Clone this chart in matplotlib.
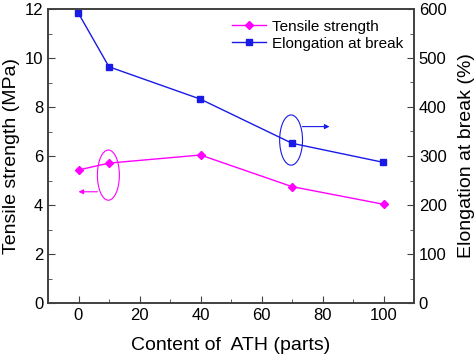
import matplotlib.pyplot as plt
from matplotlib.patches import Ellipse
from matplotlib.ticker import MultipleLocator

plt.rcParams["font.family"] = ["Liberation Sans", "DejaVu Sans"]
plt.rcParams.update({'font.size': 12})

content = [0, 10, 40, 70, 100]
tensile = [5.43, 5.71, 6.04, 4.75, 4.03]
elongation = [591, 482, 416, 326, 287]

pink = '#ff00ff'
blue = '#1a1ae6'
axc = '#404040'

fig = plt.figure(figsize=(4.74, 3.57), dpi=100)
ax = fig.add_axes([48/474, 1-303/357, 366/474, 294/357])
ax2 = ax.twinx()

l1, = ax.plot(content, tensile, color=pink, marker='D', markersize=4.5, lw=1, label='Tensile strength')
l2, = ax2.plot(content, elongation, color=blue, marker='s', markersize=4.5, lw=1, label='Elongation at break')

ax.set_xlim(-10, 110)
ax.set_ylim(0, 12)
ax2.set_ylim(0, 600)
ax.xaxis.set_major_locator(MultipleLocator(20))
ax.xaxis.set_minor_locator(MultipleLocator(10))
ax.yaxis.set_major_locator(MultipleLocator(2))
ax.yaxis.set_minor_locator(MultipleLocator(1))
ax2.yaxis.set_major_locator(MultipleLocator(100))
ax2.yaxis.set_minor_locator(MultipleLocator(50))

for a in (ax, ax2):
    for s in a.spines.values():
        s.set_color(axc)
        s.set_linewidth(1.2)
    a.tick_params(which='both', direction='in', colors=axc, labelcolor='black', labelsize=12)
    a.tick_params(which='major', length=5)
    a.tick_params(which='minor', length=3)

ax.set_xlabel('Content of  ATH (parts)', fontsize=14, labelpad=10)
ax.set_ylabel('Tensile strength (MPa)', fontsize=14, labelpad=3)
ax2.set_ylabel('Elongation at break (%)', fontsize=14, labelpad=8)

# ellipses with arrows pointing to the axis each series belongs to
ax.add_patch(Ellipse((9.8, 5.22), 7.2, 2.05, fill=False, ec=pink, lw=0.8))
ax.annotate('', xy=(0, 4.54), xytext=(6.2, 4.54),
            arrowprops=dict(arrowstyle='-|>', color=pink, lw=0.8, mutation_scale=7,
                            shrinkA=0, shrinkB=0))
ax.add_patch(Ellipse((69.7, 6.65), 7.5, 2.05, fill=False, ec=blue, lw=0.8))
ax.annotate('', xy=(82.3, 7.2), xytext=(73.4, 7.2),
            arrowprops=dict(arrowstyle='-|>', color=blue, lw=0.8, mutation_scale=7,
                            shrinkA=0, shrinkB=0))

ax.legend(handles=[l1, l2], loc='upper right', frameon=False, fontsize=11,
          handlelength=2.2, borderaxespad=0.3, labelspacing=0.2, handletextpad=0.4)

plt.savefig('out.png', dpi=100)
